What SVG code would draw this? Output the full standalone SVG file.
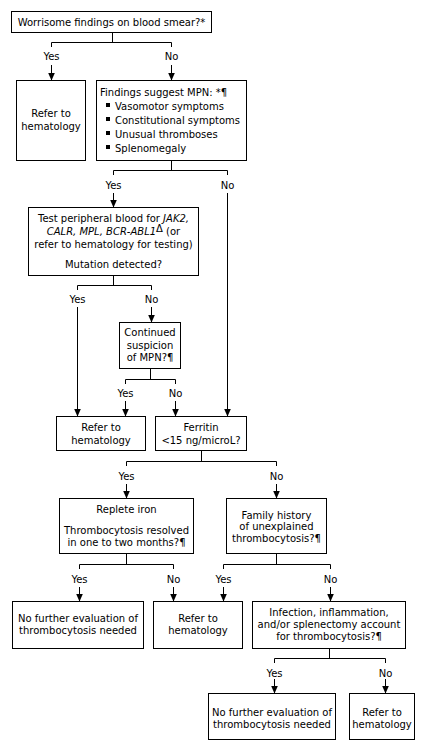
<svg xmlns="http://www.w3.org/2000/svg" width="429" height="741" viewBox="0 0 429 741">
<style>
.b{fill:#fff;stroke:#000;stroke-width:1}
.c{fill:none;stroke:#000;stroke-width:1}
text{font-family:"DejaVu Sans",Verdana,sans-serif;font-size:10px;fill:#000}
.m{text-anchor:middle}
.i{font-style:italic}
</style>
<defs>
<marker id="ah" viewBox="0 0 8 7" refX="8" refY="3.5" markerWidth="8" markerHeight="7" markerUnits="userSpaceOnUse" orient="auto">
<path d="M0,0 L8,3.5 L0,7 z" fill="#000"/>
</marker>
</defs>
<rect width="429" height="741" fill="#fff"/>
<g id="connectors">
<path class="c" d="M112.5,32.5 V42.5 M51.5,47 V42.5 H171.5 V47"/>
<path class="c" d="M51.5,65 V80.5" marker-end="url(#ah)"/>
<path class="c" d="M171.5,65 V80.5" marker-end="url(#ah)"/>
<path class="c" d="M171.5,160.5 V170.5 M113.5,175 V170.5 H227.5 V175"/>
<path class="c" d="M113.5,193 V207.5" marker-end="url(#ah)"/>
<path class="c" d="M227.5,193 V416.5" marker-end="url(#ah)"/>
<path class="c" d="M113.5,275.5 V285.5 M77.5,290 V285.5 H151.5 V290"/>
<path class="c" d="M77.5,307 V416.5" marker-end="url(#ah)"/>
<path class="c" d="M151.5,307 V322.5" marker-end="url(#ah)"/>
<path class="c" d="M150.5,368.5 V379.5 M125.5,384 V379.5 H175.5 V384"/>
<path class="c" d="M125.5,401 V416.5" marker-end="url(#ah)"/>
<path class="c" d="M175.5,401 V416.5" marker-end="url(#ah)"/>
<path class="c" d="M201.5,450.5 V461.5 M126.5,466 V461.5 H276.5 V466"/>
<path class="c" d="M126.5,484 V498.5" marker-end="url(#ah)"/>
<path class="c" d="M276.5,484 V498.5" marker-end="url(#ah)"/>
<path class="c" d="M126.5,553.5 V564.5 M79.5,569 V564.5 H173.5 V569"/>
<path class="c" d="M276.5,553.5 V564.5 M223.5,569 V564.5 H330.5 V569"/>
<path class="c" d="M79.5,587 V601.5" marker-end="url(#ah)"/>
<path class="c" d="M173.5,587 V601.5" marker-end="url(#ah)"/>
<path class="c" d="M223.5,587 V601.5" marker-end="url(#ah)"/>
<path class="c" d="M330.5,587 V601.5" marker-end="url(#ah)"/>
<path class="c" d="M329.5,648.5 V658.5 M274.5,663 V658.5 H385.5 V663"/>
<path class="c" d="M274.5,679 V693.5" marker-end="url(#ah)"/>
<path class="c" d="M385.5,679 V693.5" marker-end="url(#ah)"/>
<text class="m" x="51.5" y="60">Yes</text>
<text class="m" x="171.5" y="60">No</text>
<text class="m" x="113.5" y="188.5">Yes</text>
<text class="m" x="227.5" y="188.5">No</text>
<text class="m" x="77.5" y="302.5">Yes</text>
<text class="m" x="151.5" y="302.5">No</text>
<text class="m" x="125.5" y="396.5">Yes</text>
<text class="m" x="175.5" y="396.5">No</text>
<text class="m" x="126.5" y="479.5">Yes</text>
<text class="m" x="276.5" y="479.5">No</text>
<text class="m" x="79.5" y="582.5">Yes</text>
<text class="m" x="173.5" y="582.5">No</text>
<text class="m" x="223.5" y="582.5">Yes</text>
<text class="m" x="330.5" y="582.5">No</text>
<text class="m" x="274.5" y="676.5">Yes</text>
<text class="m" x="385.5" y="676.5">No</text>
</g>
<g id="n-smear">
<rect class="b" x="11.5" y="11.5" width="200" height="21"/>
<text class="m" x="111.5" y="25.5">Worrisome findings on blood smear?*</text>
</g>
<g id="n-refer1">
<rect class="b" x="16.5" y="80.5" width="69" height="80"/>
<text class="m" x="51" y="117">Refer to</text>
<text class="m" x="51" y="130">hematology</text>
</g>
<g id="n-mpn">
<rect class="b" x="96.5" y="80.5" width="150" height="80"/>
<text x="100" y="96">Findings suggest MPN: *¶</text>
<rect x="106" y="103" width="4" height="4"/>
<rect x="106" y="117" width="4" height="4"/>
<rect x="106" y="131" width="4" height="4"/>
<rect x="106" y="145" width="4" height="4"/>
<text x="115" y="110">Vasomotor symptoms</text>
<text x="115" y="124">Constitutional symptoms</text>
<text x="115" y="138">Unusual thromboses</text>
<text x="115" y="152">Splenomegaly</text>
</g>
<g id="n-test">
<rect class="b" x="28.5" y="207.5" width="170" height="68"/>
<text class="m" x="113.5" y="221.5">Test peripheral blood for <tspan class="i">JAK2,</tspan></text>
<text class="m" x="113.5" y="234.5"><tspan class="i">CALR, MPL, BCR-ABL1</tspan><tspan dy="-3">Δ</tspan><tspan dy="3"> (or</tspan></text>
<text class="m" x="113.5" y="247.5">refer to hematology for testing)</text>
<text class="m" x="113.5" y="268">Mutation detected?</text>
</g>
<g id="n-continued">
<rect class="b" x="119.5" y="322.5" width="61" height="46"/>
<text class="m" x="150" y="336">Continued</text>
<text class="m" x="150" y="348.5">suspicion</text>
<text class="m" x="150" y="361">of MPN?¶</text>
</g>
<g id="n-refer2">
<rect class="b" x="56.5" y="416.5" width="89" height="34"/>
<text class="m" x="101" y="431">Refer to</text>
<text class="m" x="101" y="443.5">hematology</text>
</g>
<g id="n-ferritin">
<rect class="b" x="155.5" y="416.5" width="91" height="34"/>
<text class="m" x="201" y="431">Ferritin</text>
<text class="m" x="201" y="443.5">&lt;15 ng/microL?</text>
</g>
<g id="n-replete">
<rect class="b" x="59.5" y="498.5" width="134" height="55"/>
<text class="m" x="126.5" y="512.5">Replete iron</text>
<text class="m" x="126.5" y="533.5">Thrombocytosis resolved</text>
<text class="m" x="126.5" y="545.5">in one to two months?¶</text>
</g>
<g id="n-family">
<rect class="b" x="226.5" y="498.5" width="100" height="55"/>
<text class="m" x="276.5" y="518.5">Family history</text>
<text class="m" x="276.5" y="530">of unexplained</text>
<text class="m" x="276.5" y="542">thrombocytosis?¶</text>
</g>
<g id="n-nfe1">
<rect class="b" x="12.5" y="601.5" width="131" height="47"/>
<text class="m" x="78" y="622">No further evaluation of</text>
<text class="m" x="78" y="634">thrombocytosis needed</text>
</g>
<g id="n-refer3">
<rect class="b" x="153.5" y="601.5" width="89" height="47"/>
<text class="m" x="198" y="622">Refer to</text>
<text class="m" x="198" y="634">hematology</text>
</g>
<g id="n-infection">
<rect class="b" x="252.5" y="601.5" width="153" height="47"/>
<text class="m" x="329" y="615.5">Infection, inflammation,</text>
<text class="m" x="329" y="627.5">and/or splenectomy account</text>
<text class="m" x="329" y="639.5">for thrombocytosis?¶</text>
</g>
<g id="n-nfe2">
<rect class="b" x="208.5" y="693.5" width="127" height="46"/>
<text class="m" x="272" y="716">No further evaluation of</text>
<text class="m" x="272" y="728">thrombocytosis needed</text>
</g>
<g id="n-refer4">
<rect class="b" x="349.5" y="693.5" width="65" height="46"/>
<text class="m" x="382" y="716">Refer to</text>
<text class="m" x="382" y="728">hematology</text>
</g>
</svg>
